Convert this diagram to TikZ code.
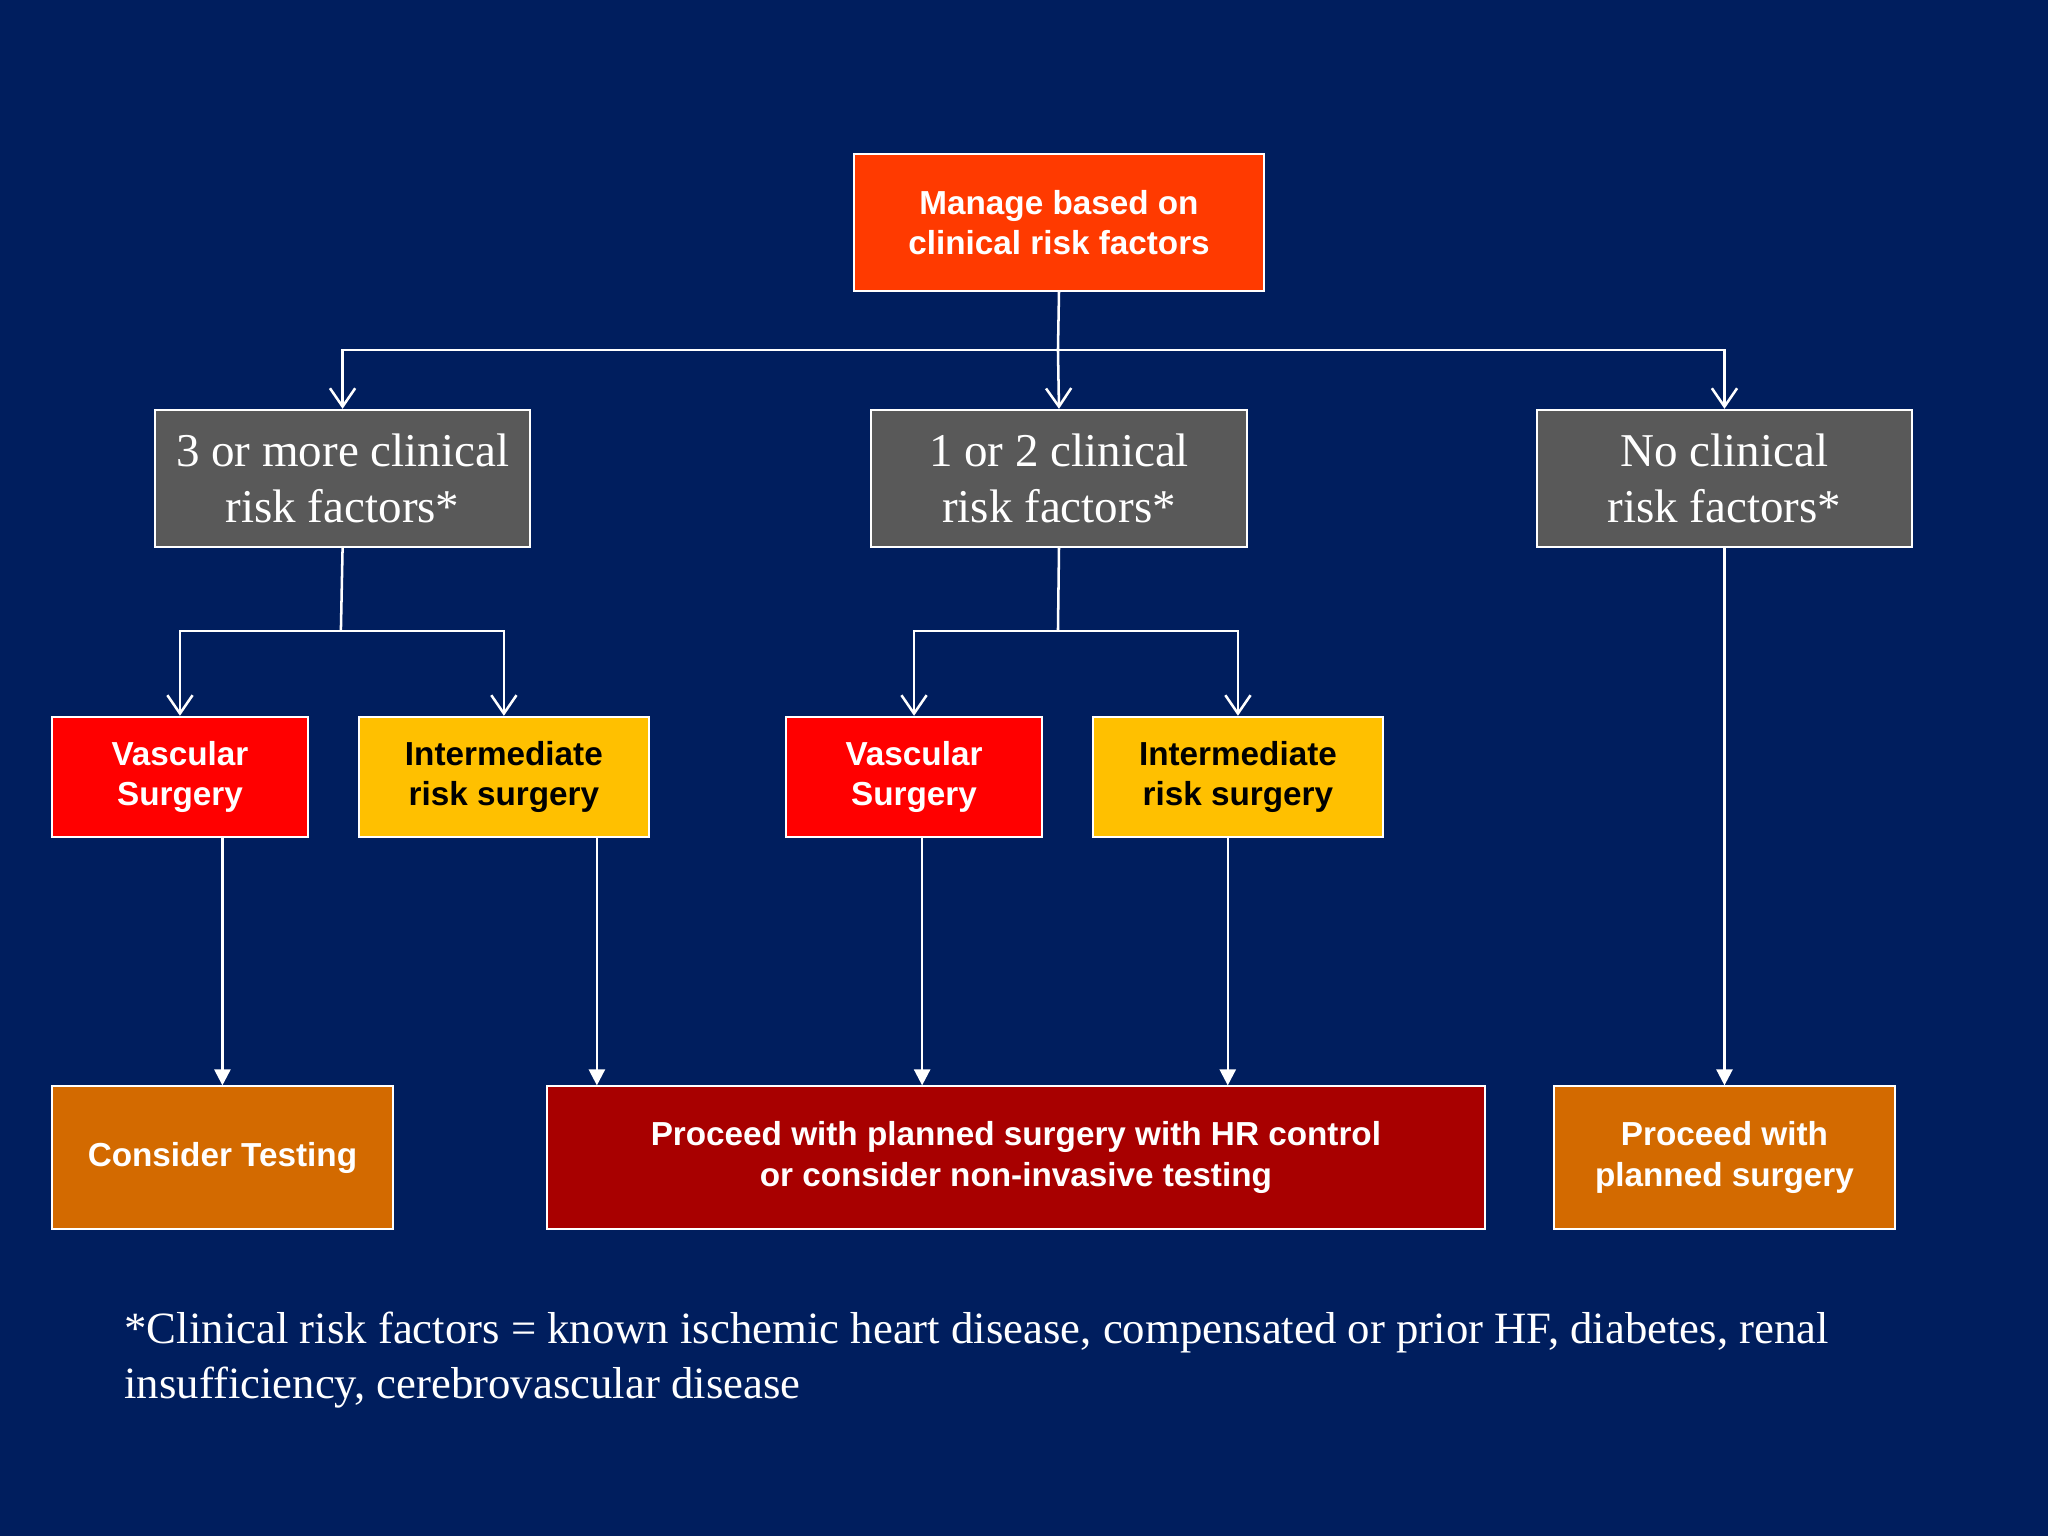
\documentclass[tikz,border=0pt]{standalone}
\usepackage{fontspec}
\setmainfont{Liberation Serif}
\newfontfamily\sansb{Liberation Sans}
\usetikzlibrary{arrows.meta}
\definecolor{bg}{HTML}{001E5E}
\definecolor{topc}{HTML}{FF3A00}
\definecolor{grayc}{HTML}{595959}
\definecolor{redc}{HTML}{FF0000}
\definecolor{yelc}{HTML}{FFC000}
\definecolor{orac}{HTML}{D36A00}
\definecolor{dred}{HTML}{A80000}
\begin{document}
\begin{tikzpicture}[x=0.02cm,y=-0.02cm,
  box/.style={draw=white,line width=0.9pt,inner sep=0pt,align=center,anchor=north west},
  sb/.style={box,text=white,font=\sansb\bfseries\fontsize{14.5}{17.6}\selectfont},
  sbk/.style={box,text=black,font=\sansb\bfseries\fontsize{14.5}{17.6}\selectfont},
  sr/.style={box,fill=grayc,text=white,font=\fontsize{20.5}{24}\selectfont},
  ln/.style={white,line width=1.1pt},
  oa/.style={ln,-{Straight Barb[length=8pt,width=11pt]}},
  fa/.style={ln,-{Triangle[length=7pt,width=7pt]}}]
\fill[bg] (0,0) rectangle (1568,1176);
\path[use as bounding box] (0,0) rectangle (1568,1176);
\node[sb,fill=topc,minimum width=314*0.02cm,minimum height=105*0.02cm] (top) at (653,117) {Manage based on\\clinical risk factors};
\node[sr,minimum width=287*0.02cm,minimum height=105*0.02cm] (g1) at (118,313) {3 or more clinical\\risk factors*};
\node[sr,minimum width=288*0.02cm,minimum height=105*0.02cm] (g2) at (666,313) {1 or 2 clinical\\risk factors*};
\node[sr,minimum width=287*0.02cm,minimum height=105*0.02cm] (g3) at (1176,313) {No clinical\\risk factors*};
\node[sb,fill=redc,minimum width=196*0.02cm,minimum height=92*0.02cm] (v1) at (39,548) {Vascular\\Surgery};
\node[sbk,fill=yelc,minimum width=222*0.02cm,minimum height=92*0.02cm] (i1) at (274,548) {Intermediate\\risk surgery};
\node[sb,fill=redc,minimum width=196*0.02cm,minimum height=92*0.02cm] (v2) at (601,548) {Vascular\\Surgery};
\node[sbk,fill=yelc,minimum width=222*0.02cm,minimum height=92*0.02cm] (i2) at (836,548) {Intermediate\\risk surgery};
\node[sb,fill=orac,minimum width=261*0.02cm,minimum height=109*0.02cm] (ct) at (39,831) {Consider Testing};
\node[sb,fill=dred,minimum width=718*0.02cm,minimum height=109*0.02cm] (big) at (418,831) {Proceed with planned surgery with HR control\\or consider non-invasive testing};
\node[sb,fill=orac,minimum width=261*0.02cm,minimum height=109*0.02cm] (pw) at (1189,831) {Proceed with\\planned surgery};
% top connectors
\coordinate (j0) at (810,268);
\draw[ln] (top.south) -- (j0);
\draw[oa] (j0) -| (g1.north);
\draw[oa] (j0) -- (g2.north);
\draw[oa] (j0) -| (g3.north);
\coordinate (j1) at (261,483);
\draw[ln] (g1.south) -- (j1);
\draw[oa] (j1) -| (v1.north);
\draw[oa] (j1) -| (i1.north);
\coordinate (j2) at (810,483);
\draw[ln] (g2.south) -- (j2);
\draw[oa] (j2) -| (v2.north);
\draw[oa] (j2) -| (i2.north);
% bottom connectors
\draw[fa] (v1.south -| ct.north) -- (ct.north);
\draw[fa] (i1.south -| 457,0) -- (big.north -| 457,0);
\draw[fa] (v2.south -| 706,0) -- (big.north -| 706,0);
\draw[fa] (i2.south -| 940,0) -- (big.north -| 940,0);
\draw[fa] (g3.south) -- (pw.north);
\node[anchor=north west,text=white,align=left,inner sep=0pt,font=\fontsize{19.5}{24}\selectfont] (fn) at (95,1004) {*Clinical risk factors = known ischemic heart disease, compensated or prior HF, diabetes, renal\\insufficiency, cerebrovascular disease};
\end{tikzpicture}
\end{document}
